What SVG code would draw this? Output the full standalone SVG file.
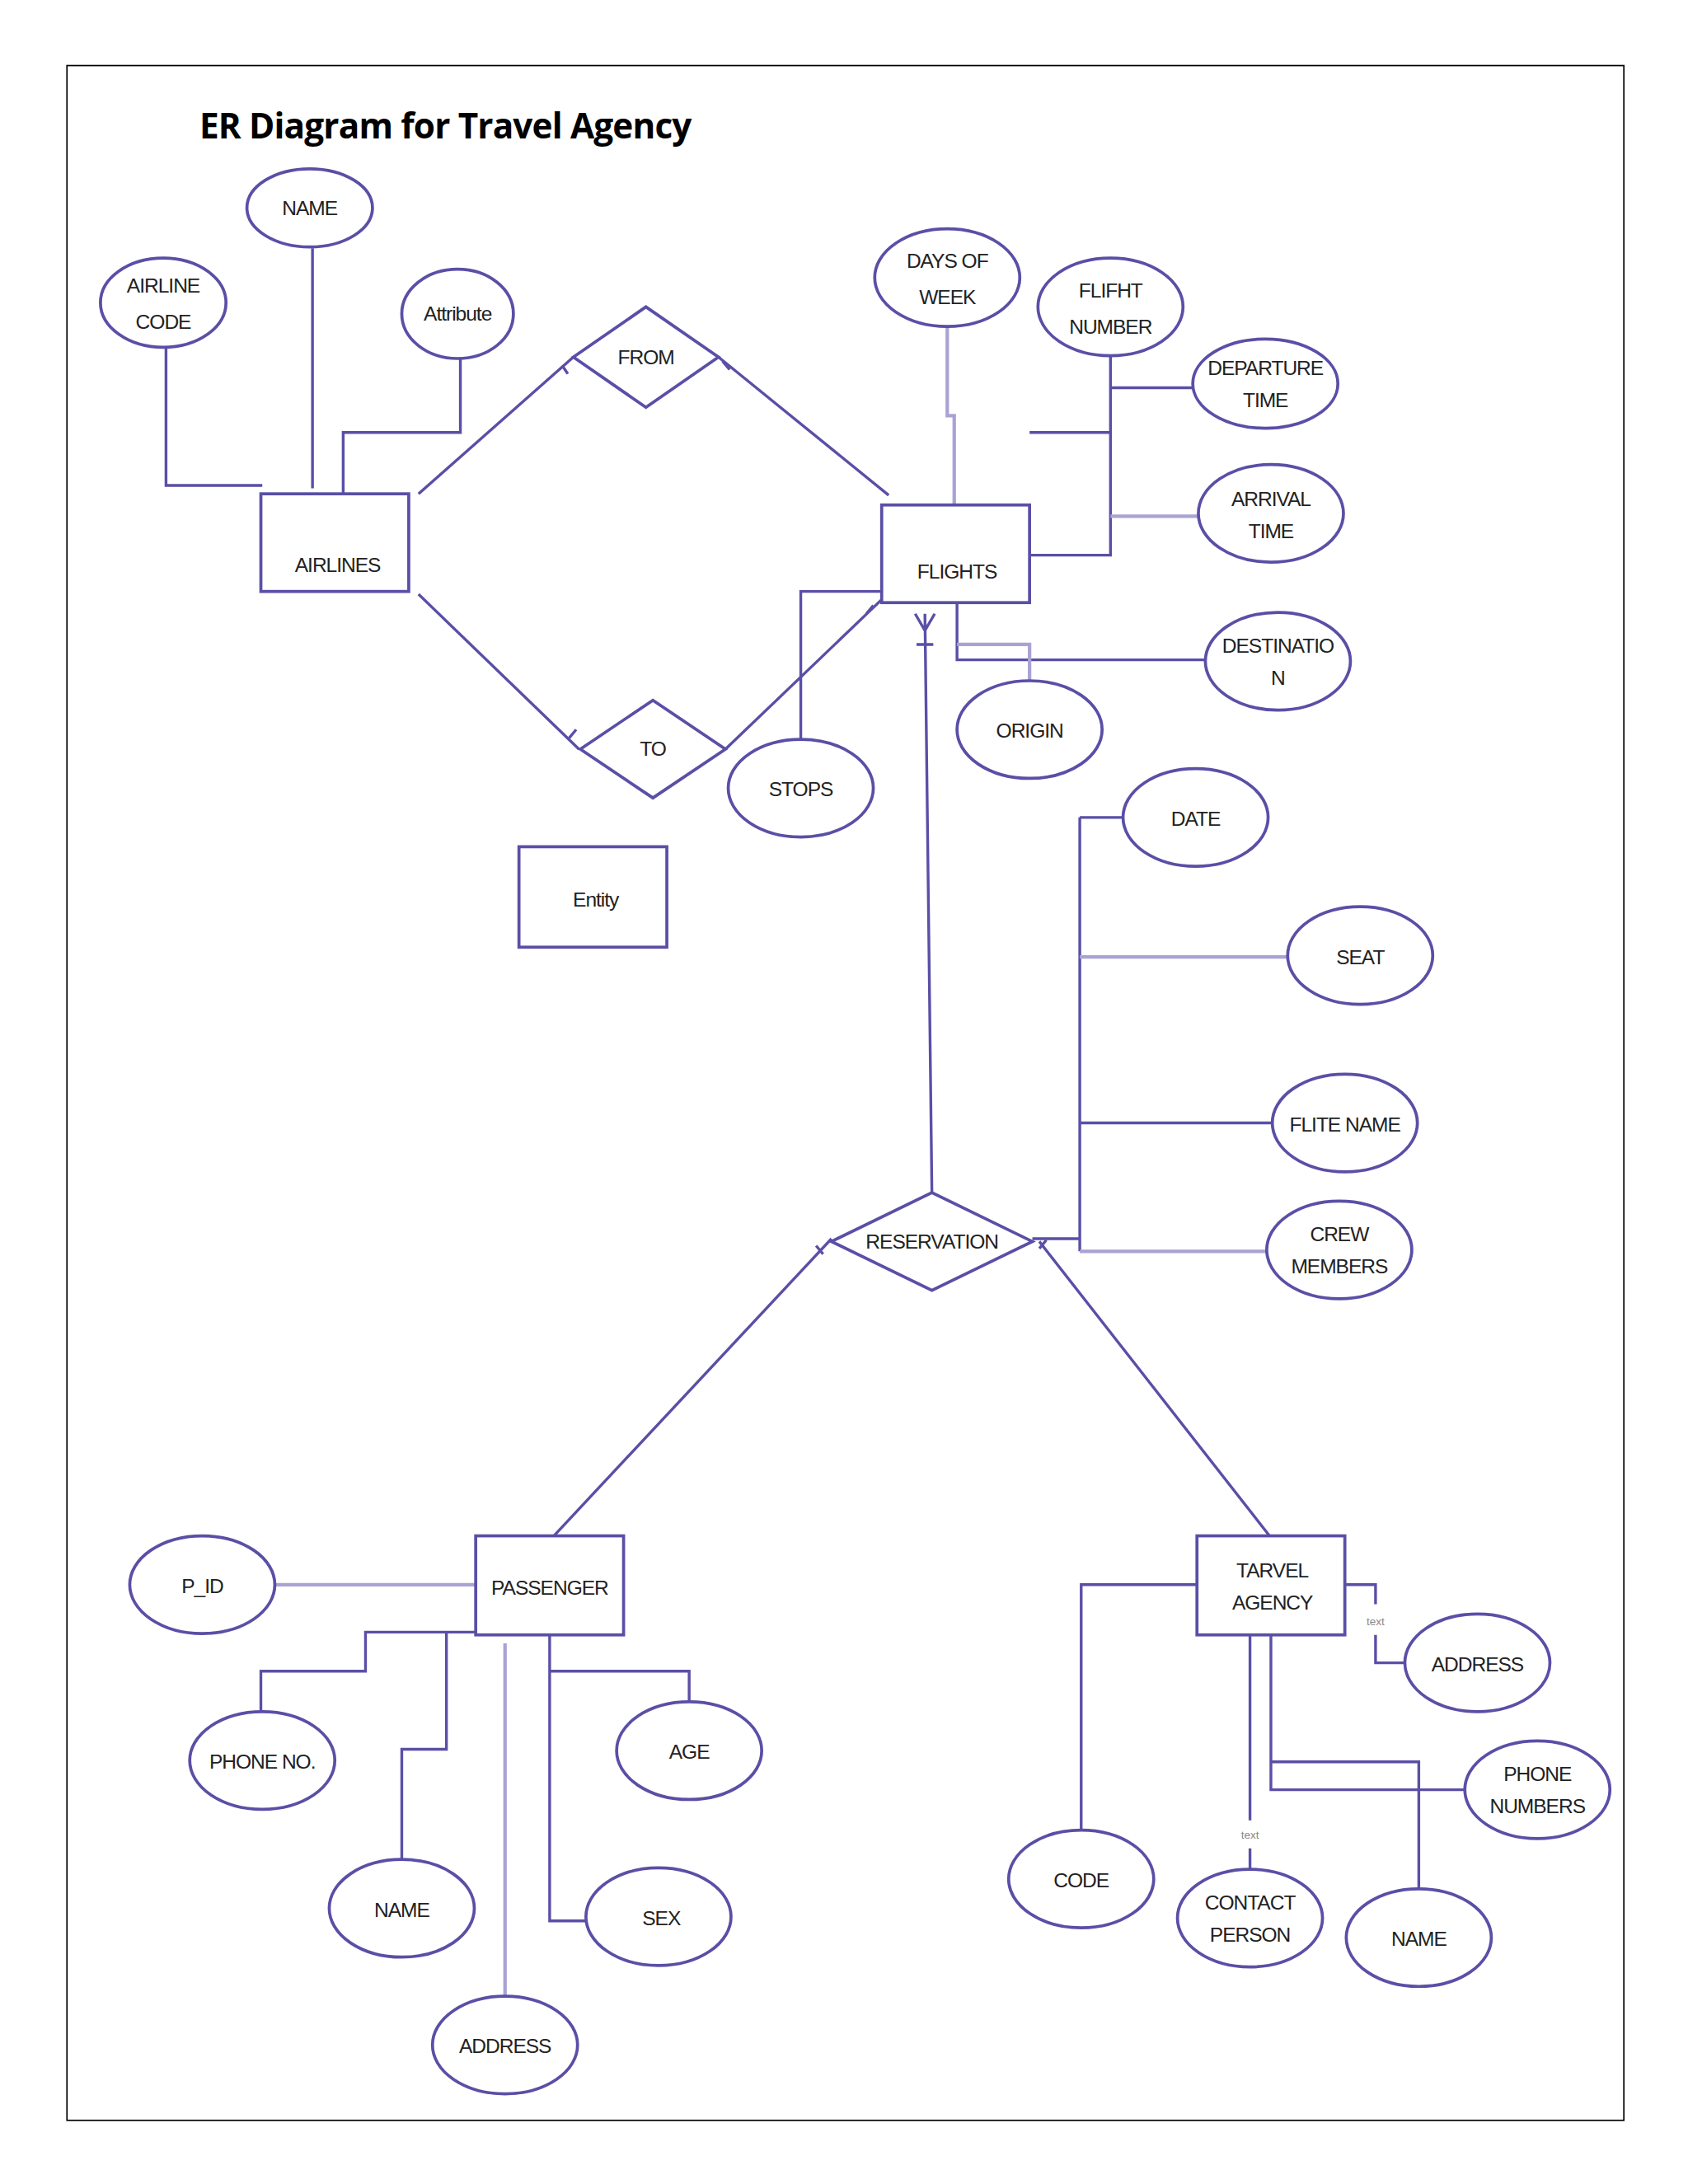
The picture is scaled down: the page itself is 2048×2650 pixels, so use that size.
<svg xmlns="http://www.w3.org/2000/svg" width="2048" height="2650" viewBox="0 0 2048 2650">
<style>
.a{fill:#fff;stroke:#5a4fa6;stroke-width:2.2}
.l{fill:none;stroke:#5a4fa6;stroke-width:2}
.lt{fill:none;stroke:#a9a3d4;stroke-width:2.5}
text{font-family:"Liberation Sans",Arial,sans-serif;font-size:14.5px;fill:#222;text-anchor:middle;letter-spacing:-0.6px}
.s{font-size:8px;fill:#888;letter-spacing:0}
.t{font-family:"Open Sans","Liberation Sans",sans-serif;font-size:25px;font-weight:bold;text-anchor:start;fill:#000;letter-spacing:-0.5px}
</style>
<rect width="2048" height="2650" fill="#fff"/>
<g transform="scale(1.6926)">
<rect x="48" y="47" width="1116" height="1473" fill="none" stroke="#000" stroke-width="1"/>
<text class="t" x="143" y="99">ER Diagram for Travel Agency</text>
<g id="connectors">
<path class="l" d="M119 248V348H188"/>
<path class="l" d="M224 178V350"/>
<path class="l" d="M330 257V310H246V354"/>
<path class="l" d="M300 354L411 256M515 256L637 355M300 426L415 537M520 537L637 425"/>
<path class="l" d="M403 262l4 6M518 259l5 6M408 529l5-6M621 440l5-6"/>
<path class="l" d="M574 530V424H632"/>
<path class="lt" d="M679 234V298H684V362"/>
<path class="l" d="M738 310H796M796 255V398H738M796 278H855"/>
<path class="lt" d="M796 370H860"/>
<path class="l" d="M686 432V473H864"/>
<path class="lt" d="M686 462H738V488"/>
<path class="l" d="M663 440L668 855M656 440l7 12 7-12M657 462h12"/>
<path class="l" d="M740 888H774M774 586V897M774 586H805M774 805H935"/>
<path class="lt" d="M774 686H960M774 897H950"/>
<path class="l" d="M596 888L397 1101M745 890L910 1101M585 893l5 6M745 895l5-6"/>
<path class="lt" d="M197 1136H341M362 1178V1431"/>
<path class="l" d="M187 1228V1198H262V1170H341"/>
<path class="l" d="M288 1333V1254H320V1170"/>
<path class="l" d="M394 1172V1198H494V1220M394 1198V1377H440"/>
<path class="l" d="M775 1312V1136H858"/>
<path class="l" d="M964 1136H986V1150M986 1172V1192H1007"/>
<path class="l" d="M896 1172V1305M896 1325V1340"/>
<path class="l" d="M911 1172V1283H1050M911 1263H1017V1354"/>
<text class="s" x="986" y="1165">text</text>
<text class="s" x="896" y="1318">text</text>
</g>
<g id="entities">
<g id="airlines"><rect class="a" x="187" y="354" width="106" height="70"/><text x="242" y="410">AIRLINES</text></g>
<g id="flights"><rect class="a" x="632" y="362" width="106" height="70"/><text x="686" y="415">FLIGHTS</text></g>
<g id="entity"><rect class="a" x="372" y="607" width="106" height="72"/><text x="427" y="650">Entity</text></g>
<g id="passenger"><rect class="a" x="341" y="1101" width="106" height="71"/><text x="394" y="1143">PASSENGER</text></g>
<g id="agency"><rect class="a" x="858" y="1101" width="106" height="71"/><text x="912" y="1131">TARVEL</text><text x="912" y="1154">AGENCY</text></g>
</g>
<g id="relations">
<g id="from"><polygon class="a" points="411,256 463,220 515,256 463,292"/><text x="463" y="261">FROM</text></g>
<g id="to"><polygon class="a" points="416,537 468,502 520,537 468,572"/><text x="468" y="542">TO</text></g>
<g id="reservation"><polygon class="a" points="596,890 668,855 740,890 668,925"/><text x="668" y="895">RESERVATION</text></g>
</g>
<g id="attributes">
<g><ellipse class="a" cx="222" cy="149" rx="45" ry="28"/><text x="222" y="154">NAME</text></g>
<g><ellipse class="a" cx="117" cy="217" rx="45" ry="32"/><text x="117" y="210">AIRLINE</text><text x="117" y="236">CODE</text></g>
<g><ellipse class="a" cx="328" cy="225" rx="40" ry="32"/><text x="328" y="230">Attribute</text></g>
<g><ellipse class="a" cx="679" cy="199" rx="52" ry="35"/><text x="679" y="192">DAYS OF</text><text x="679" y="218">WEEK</text></g>
<g><ellipse class="a" cx="796" cy="220" rx="52" ry="35"/><text x="796" y="213">FLIFHT</text><text x="796" y="239">NUMBER</text></g>
<g><ellipse class="a" cx="907" cy="275" rx="52" ry="32"/><text x="907" y="269">DEPARTURE</text><text x="907" y="292">TIME</text></g>
<g><ellipse class="a" cx="911" cy="368" rx="52" ry="35"/><text x="911" y="363">ARRIVAL</text><text x="911" y="386">TIME</text></g>
<g><ellipse class="a" cx="916" cy="474" rx="52" ry="35"/><text x="916" y="468">DESTINATIO</text><text x="916" y="491">N</text></g>
<g><ellipse class="a" cx="738" cy="523" rx="52" ry="35"/><text x="738" y="529">ORIGIN</text></g>
<g><ellipse class="a" cx="574" cy="565" rx="52" ry="35"/><text x="574" y="571">STOPS</text></g>
<g><ellipse class="a" cx="857" cy="586" rx="52" ry="35"/><text x="857" y="592">DATE</text></g>
<g><ellipse class="a" cx="975" cy="685" rx="52" ry="35"/><text x="975" y="691">SEAT</text></g>
<g><ellipse class="a" cx="964" cy="805" rx="52" ry="35"/><text x="964" y="811">FLITE NAME</text></g>
<g><ellipse class="a" cx="960" cy="896" rx="52" ry="35"/><text x="960" y="890">CREW</text><text x="960" y="913">MEMBERS</text></g>
<g><ellipse class="a" cx="145" cy="1136" rx="52" ry="35"/><text x="145" y="1142">P_ID</text></g>
<g><ellipse class="a" cx="188" cy="1262" rx="52" ry="35"/><text x="188" y="1268">PHONE NO.</text></g>
<g><ellipse class="a" cx="288" cy="1368" rx="52" ry="35"/><text x="288" y="1374">NAME</text></g>
<g><ellipse class="a" cx="494" cy="1255" rx="52" ry="35"/><text x="494" y="1261">AGE</text></g>
<g><ellipse class="a" cx="472" cy="1374" rx="52" ry="35"/><text x="474" y="1380">SEX</text></g>
<g><ellipse class="a" cx="362" cy="1466" rx="52" ry="35"/><text x="362" y="1472">ADDRESS</text></g>
<g><ellipse class="a" cx="1059" cy="1192" rx="52" ry="35"/><text x="1059" y="1198">ADDRESS</text></g>
<g><ellipse class="a" cx="1102" cy="1283" rx="52" ry="35"/><text x="1102" y="1277">PHONE</text><text x="1102" y="1300">NUMBERS</text></g>
<g><ellipse class="a" cx="775" cy="1347" rx="52" ry="35"/><text x="775" y="1353">CODE</text></g>
<g><ellipse class="a" cx="896" cy="1375" rx="52" ry="35"/><text x="896" y="1369">CONTACT</text><text x="896" y="1392">PERSON</text></g>
<g><ellipse class="a" cx="1017" cy="1389" rx="52" ry="35"/><text x="1017" y="1395">NAME</text></g>
</g>
</g>
</svg>
